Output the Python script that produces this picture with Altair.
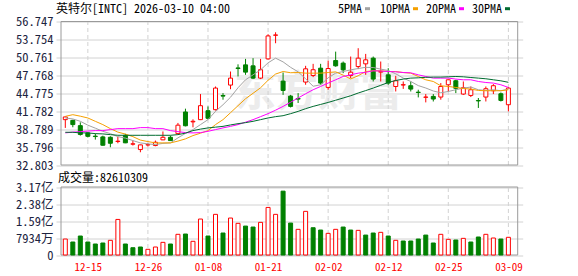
import json
import altair as alt
import pandas as pd

# ---------------- data ----------------
dates = ["12-10", "12-11", "12-12", "12-15", "12-16", "12-17", "12-18", "12-19", "12-22", "12-23",
         "12-24", "12-26", "12-29", "12-30", "12-31", "01-02", "01-05", "01-06", "01-07", "01-08",
         "01-09", "01-12", "01-13", "01-14", "01-15", "01-16", "01-20", "01-21", "01-22", "01-23",
         "01-26", "01-27", "01-28", "01-29", "01-30", "02-02", "02-03", "02-04", "02-05", "02-06",
         "02-09", "02-10", "02-11", "02-12", "02-13", "02-17", "02-18", "02-19", "02-20", "02-23",
         "02-24", "02-25", "02-26", "02-27", "03-02", "03-03", "03-04", "03-05", "03-06", "03-09"]

open_ = [40.37, 40.25, 39.37, 38.16, 37.62, 37.49, 37.43, 36.72, 37.76, 36.28,
         35.38, 36.15, 36.05, 37.00, 37.43, 38.04, 41.65, 40.00, 40.37, 41.86,
         42.03, 44.40, 46.14, 49.00, 49.51, 49.35, 47.30, 50.51, 54.45, 46.80,
         44.30, 43.90, 46.64, 47.73, 48.96, 45.75, 50.23, 49.80, 47.73, 49.23,
         49.68, 50.63, 48.30, 47.85, 45.90, 46.15, 46.03, 44.96, 44.10, 44.25,
         44.14, 46.19, 46.86, 44.64, 44.41, 43.56, 44.14, 45.19, 44.69, 42.86]
high = [40.90, 40.35, 39.92, 38.25, 38.04, 37.70, 37.60, 37.49, 38.00, 36.88,
        36.20, 36.43, 36.88, 38.40, 37.70, 39.82, 42.20, 40.42, 44.64, 42.58,
        45.90, 44.80, 48.40, 49.60, 50.51, 50.63, 50.51, 54.62, 54.95, 48.23,
        44.50, 44.80, 49.35, 49.68, 49.68, 50.23, 51.72, 50.07, 50.90, 52.29,
        51.34, 50.90, 50.07, 48.96, 47.68, 46.74, 46.74, 45.36, 44.64, 44.64,
        46.47, 47.02, 47.02, 46.74, 45.90, 43.98, 45.90, 46.30, 44.91, 45.80]
low = [38.99, 39.10, 37.71, 37.40, 37.04, 36.05, 35.76, 36.43, 36.45, 36.05,
       34.93, 35.88, 35.93, 36.95, 36.85, 37.95, 39.25, 39.09, 40.30, 40.45,
       41.90, 43.70, 45.45, 47.57, 47.85, 47.14, 47.14, 50.40, 53.12, 44.50,
       42.40, 43.15, 46.19, 47.47, 46.19, 45.36, 49.20, 48.13, 47.30, 48.80,
       47.85, 46.74, 46.74, 46.19, 45.07, 45.50, 45.07, 44.08, 43.25, 43.40,
       43.70, 45.07, 44.80, 44.50, 44.14, 42.32, 43.40, 44.64, 43.40, 41.75]
close = [40.82, 39.55, 37.90, 37.59, 37.55, 36.10, 36.43, 36.78, 36.50, 36.34,
         36.16, 36.20, 36.60, 37.43, 36.88, 39.45, 39.35, 40.10, 42.70, 40.60,
         45.64, 44.30, 47.30, 48.90, 48.30, 47.30, 48.70, 54.34, 54.50, 45.24,
         42.58, 43.80, 48.85, 48.70, 46.47, 48.90, 49.35, 48.68, 48.29, 50.63,
         50.35, 47.14, 48.40, 46.47, 46.86, 46.20, 45.47, 44.90, 44.14, 43.81,
         45.90, 47.02, 45.60, 45.70, 45.36, 43.50, 45.53, 46.03, 43.58, 45.64]
# volume in millions of shares
volume = [74.6, 60.6, 88.6, 60.6, 51.3, 56.0, 68.5, 166.0, 51.3, 34.0,
          37.3, 26.6, 37.3, 59.0, 51.3, 96.5, 97.9, 63.9, 167.8, 88.6,
          189.7, 102.6, 172.5, 147.8, 135.0, 130.5, 152.4, 222.0, 189.7, 298.0,
          149.0, 119.8, 203.7, 127.3, 116.5, 101.0, 119.8, 130.5, 116.5, 115.0,
          93.0, 102.6, 105.8, 88.6, 68.5, 65.3, 65.3, 74.6, 93.0, 56.0,
          96.5, 73.0, 70.0, 77.7, 60.6, 84.0, 96.5, 79.3, 74.6, 82.61]

ma5 = [40.65, 40.49, 40.09, 39.45, 38.95, 38.42, 38.04, 37.54, 37.29, 36.88,
       36.49, 36.33, 36.21, 36.41, 36.49, 37.33, 38.07, 38.71, 39.54, 40.37,
       41.75, 42.86, 44.11, 45.69, 47.02, 47.85, 48.68, 49.85, 50.63, 50.01,
       49.10, 48.35, 47.19, 45.94, 46.19, 47.35, 48.13, 48.40, 48.68, 48.90,
       49.10, 49.07, 48.80, 48.57, 48.02, 47.30, 46.74, 46.05, 45.65, 45.15,
       44.85, 45.07, 45.36, 45.64, 45.81, 45.36, 45.24, 45.36, 45.19, 45.47]
ma10 = [40.92, 41.20, 40.95, 40.65, 40.09, 39.54, 38.87, 38.29, 37.96, 37.54,
        36.96, 36.71, 36.49, 36.49, 36.49, 36.79, 37.16, 37.71, 38.11, 38.54,
        39.54, 40.37, 41.53, 42.70, 43.86, 44.77, 45.69, 46.94, 47.98, 48.40,
        48.20, 48.23, 48.13, 48.13, 48.13, 48.23, 48.34, 47.80, 47.16, 47.70,
        48.40, 48.52, 48.52, 48.40, 48.40, 48.23, 48.13, 47.57, 47.02, 46.74,
        46.02, 45.91, 45.74, 45.57, 45.47, 45.24, 45.19, 45.19, 45.19, 45.36]
ma20 = [38.16, 38.29, 38.37, 38.46, 38.54, 38.54, 38.71, 38.87, 38.87, 38.87,
        39.04, 39.04, 38.87, 38.87, 38.54, 38.37, 38.21, 38.16, 38.21, 38.42,
        38.71, 38.99, 39.25, 39.54, 39.95, 40.37, 40.87, 41.37, 41.95, 42.58,
        43.28, 43.98, 44.69, 45.36, 45.91, 46.47, 47.02, 47.57, 47.85, 48.13,
        48.27, 48.52, 48.48, 48.40, 48.35, 48.23, 48.18, 47.85, 47.57, 47.30,
        47.30, 47.30, 47.14, 47.02, 47.02, 46.74, 46.57, 46.47, 46.19, 45.74]
ma30 = [38.26, 38.26, 38.16, 38.16, 38.04, 37.99, 37.87, 37.76, 37.76, 37.76,
        37.76, 37.76, 37.76, 37.76, 37.76, 37.87, 38.12, 38.54, 38.79, 38.99,
        39.12, 39.25, 39.49, 39.70, 39.87, 40.09, 40.37, 40.65, 40.87, 41.03,
        41.37, 41.75, 42.20, 42.58, 42.91, 43.24, 43.61, 43.98, 44.36, 44.81,
        45.22, 45.64, 46.10, 46.57, 46.90, 47.14, 47.30, 47.35, 47.43, 47.47,
        47.47, 47.52, 47.57, 47.52, 47.40, 47.30, 47.19, 47.02, 46.85, 46.60]

price_ticks = [32.803, 35.796, 38.789, 41.782, 44.775, 47.768, 50.761, 53.754, 56.747]
vol_ticks = [0, 79.34, 158.68, 238.02, 317.36]
vol_tick_labels = ["0", "7934万", "1.59亿", "2.38亿", "3.17亿"]
date_tick_idx = [3, 11, 19, 27, 35, 43, 51, 59]
title_text = "英特尔[INTC] 2026-03-10 04:00"
vol_title = "成交量:82610309"
ma_names = ["5PMA", "10PMA", "20PMA", "30PMA"]
watermark = "东方财富"

# ---------------- styling ----------------
RED = "#ff0000"
GREEN = "#008000"
MA_COLORS = ["#a3a3a3", "#f5a000", "#ff00ff", "#006b30"]
LBL = "#1c2340"
GRID = "#d2d2d2"
BOX = "#9a9a9a"
MONO = "Noto Sans Mono CJK SC, Noto Sans CJK SC, monospace"

W, H = 466.7, 233.5          # whole plotting band (price + gap + volume)
P_H = 143.5                  # price panel height
V_TOP, V_BOT = 165.5, 233.5  # volume panel pixel band

N = len(dates)
X0, X1 = -0.573, 60.24
P_MIN, P_MAX = price_ticks[0], price_ticks[-1]
V_MAX = vol_ticks[-1]

df = pd.DataFrame({"i": list(range(N)), "date": dates, "open": open_, "high": high,
                   "low": low, "close": close, "vol": volume})
df["dir"] = ["up" if c >= o else "down" for o, c in zip(open_, close)]
prev = [open_[0]] + close[:-1]
df["vdir"] = ["up" if c >= p else "down" for p, c in zip(prev, close)]

ticks_df = pd.DataFrame({"i": date_tick_idx})
ticks_df["lo"] = P_MIN
ticks_df["hi"] = P_MAX
ticks_df["vlo"] = 0.0
ticks_df["vhi"] = V_MAX
box_df = pd.DataFrame({"x0": [X0], "x1": [X1], "lo": [P_MIN], "hi": [P_MAX], "vlo": [0.0], "vhi": [V_MAX]})

x_scale = alt.Scale(domain=[X0, X1], nice=False, zero=False)
x_axis = alt.Axis(values=date_tick_idx,
                  labelExpr=json.dumps(dates, ensure_ascii=False) + "[datum.value]",
                  grid=False, domain=False, ticks=False, labelColor=RED, labelFont=MONO,
                  labelFontSize=11, labelPadding=6, title=None, labelFlush=False,
                  labelOverlap=False)
X = alt.X("i:Q", scale=x_scale, axis=x_axis)

p_scale = alt.Scale(domain=[P_MIN, P_MAX], range=[P_H, 0], nice=False, zero=False)
p_axis = alt.Axis(values=price_ticks, format=".3f", grid=True, gridColor=GRID, domain=False,
                  ticks=False, labelPadding=3, labelFont=MONO, labelFontSize=12.5,
                  labelColor=LBL, title=None, labelOverlap=False, orient="left")
v_scale = alt.Scale(domain=[0, V_MAX], range=[V_BOT, V_TOP], nice=False, zero=True)
v_label_expr = json.dumps(vol_tick_labels, ensure_ascii=False) + "[round(datum.value / 79.34)]"
v_axis = alt.Axis(values=vol_ticks, labelExpr=v_label_expr, grid=True, gridColor=GRID,
                  domain=False, ticks=False, labelPadding=3, labelFont=MONO, labelFontSize=12.5,
                  labelColor=LBL, title=None, labelOverlap=False, orient="left")


def PY(field):
    return alt.Y(field, scale=p_scale, axis=p_axis)


def VY(field):
    return alt.Y(field, scale=v_scale, axis=v_axis)


stroke_dir = alt.Stroke("dir:N", scale=alt.Scale(domain=["up", "down"], range=[RED, GREEN]), legend=None)
fill_dir = alt.Fill("dir:N", scale=alt.Scale(domain=["up", "down"], range=["#ffffff", GREEN]), legend=None)
stroke_vdir = alt.Stroke("vdir:N", scale=alt.Scale(domain=["up", "down"], range=[RED, GREEN]), legend=None)
fill_vdir = alt.Fill("vdir:N", scale=alt.Scale(domain=["up", "down"], range=["#ffffff", GREEN]), legend=None)

# ---------------- price panel ----------------
wm = alt.Chart(pd.DataFrame({"t": [watermark]})).mark_text(
    font="Noto Sans CJK SC", fontSize=42, fontWeight="bold", color="#ececec", align="center",
    baseline="middle").encode(x=alt.value(262), y=alt.value(71), text="t:N")

p_vgrid = alt.Chart(ticks_df).mark_rule(color=GRID, strokeDash=[4, 3], strokeWidth=1).encode(
    x=X, y=PY("lo:Q"), y2="hi:Q")
p_box = alt.Chart(box_df).mark_rect(fillOpacity=0, stroke=BOX, strokeWidth=1).encode(
    x=alt.X("x0:Q", scale=x_scale, axis=x_axis), x2="x1:Q", y=PY("lo:Q"), y2="hi:Q")
wicks = alt.Chart(df).mark_rule(strokeWidth=1).encode(x=X, y=PY("low:Q"), y2="high:Q", stroke=stroke_dir)
bodies = alt.Chart(df).mark_bar(size=4, strokeWidth=1).encode(
    x=X, y=PY("open:Q"), y2="close:Q", fill=fill_dir, stroke=stroke_dir)

ma_layers = []
for name, vals, col in zip(ma_names, [ma5, ma10, ma20, ma30], MA_COLORS):
    mdf = pd.DataFrame({"i": list(range(N)), "v": vals})
    ma_layers.append(alt.Chart(mdf).mark_line(color=col, strokeWidth=1, interpolate="linear").encode(
        x=X, y=PY("v:Q")))

title_layer = alt.Chart(pd.DataFrame({"t": [title_text]})).mark_text(
    font=MONO, fontSize=12, color="#000000", align="left", baseline="middle").encode(
    x=alt.value(0), y=alt.value(-12.5), text="t:N")

legend_layers = []
text_starts = [282, 324, 370, 416]
for name, col, xs in zip(ma_names, MA_COLORS, text_starts):
    legend_layers.append(alt.Chart(pd.DataFrame({"t": [name]})).mark_text(
        font=MONO, fontSize=12, color="#000000", align="left", baseline="middle").encode(
        x=alt.value(xs), y=alt.value(-12.3), text="t:N"))
    sx = xs + len(name) * 6 + 3
    legend_layers.append(alt.Chart(pd.DataFrame({"t": [name]})).mark_rect(color=col).encode(
        x=alt.value(sx), x2=alt.value(sx + 5), y=alt.value(-14.3), y2=alt.value(-11.3)))

price = alt.layer(wm, p_vgrid, p_box, wicks, bodies, *ma_layers, title_layer, *legend_layers)

# ---------------- volume panel ----------------
v_vgrid = alt.Chart(ticks_df).mark_rule(color=GRID, strokeDash=[4, 3], strokeWidth=1).encode(
    x=X, y=VY("vlo:Q"), y2="vhi:Q")
v_box = alt.Chart(box_df).mark_rect(fillOpacity=0, stroke=BOX, strokeWidth=1).encode(
    x=alt.X("x0:Q", scale=x_scale, axis=x_axis), x2="x1:Q", y=VY("vlo:Q"), y2="vhi:Q")
vbars = alt.Chart(df).mark_bar(size=4, strokeWidth=1).encode(
    x=X, y=VY("vol:Q"), fill=fill_vdir, stroke=stroke_vdir)
vtitle = alt.Chart(pd.DataFrame({"t": [vol_title]})).mark_text(
    font=MONO, fontSize=12, color="#000000", align="left", baseline="middle").encode(
    x=alt.value(2), y=alt.value(156), text="t:N")

vol = alt.layer(v_vgrid, v_box, vbars, vtitle)

chart = alt.layer(price, vol).resolve_scale(y="independent").properties(
    width=W, height=H,
    autosize=alt.AutoSizeParams(type="none"),
    padding={"left": 56, "top": 21.5, "right": 55.3, "bottom": 21},
    background="#ffffff",
).configure_view(stroke=None)

chart.save("out.html", embed_options={"renderer": "svg", "actions": False})
